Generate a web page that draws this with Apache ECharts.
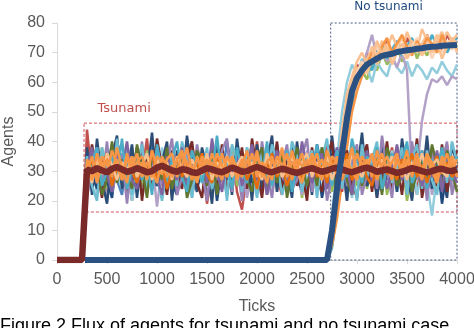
<!DOCTYPE html>
<html>
<head>
<meta charset="utf-8">
<title>Flux of agents</title>
<script src="https://cdn.jsdelivr.net/npm/echarts@6/dist/echarts.min.js"></script>
<style>
  html, body { margin: 0; padding: 0; background: #fff; }
  #chart { width: 474px; height: 328px; }
</style>
</head>
<body>
<div id="chart"></div>
<script>
// x positions (ticks) shared by the tsunami runs and the red mean
var ticks = [0,50,100,150,200,250,300,350,400,450,500,550,600,650,700,750,800,850,900,950,
  1000,1050,1100,1150,1200,1250,1300,1350,1400,1450,1500,1550,1600,1650,1700,1750,1800,1850,1900,1950,
  2000,2050,2100,2150,2200,2250,2300,2350,2400,2450,2500,2550,2600,2650,2700,2750,2800,2850,2900,2950,
  3000,3050,3100,3150,3200,3250,3300,3350,3400,3450,3500,3550,3600,3650,3700,3750,3800,3850,3900,3950,4000];

// x positions for the no-tsunami runs (all zero before 2700)
var lateTicks = [2700,2750,2800,2850,2900,2950,3000,3050,3100,3150,3200,3250,3300,3350,3400,
  3450,3500,3550,3600,3650,3700,3750,3800,3850,3900,3950,4000];

// no-tsunami mean: flat at 0 from ~280, then rising
var blueTicks = [280,2700,2750,2800,2850,2900,2950,3000,3050,3100,3150,3200,3250,3300,3350,3400,
  3450,3500,3550,3600,3650,3700,3750,3800,3850,3900,3950,4000];
var noTsunamiMean = [0,0,10,24,36,48,57,61.5,64,66,67,68,68.9,69.3,69.6,70.2,
  70.5,70.8,71,71.3,71.5,71.8,72,72.1,72.3,72.4,72.5,72.6];

// tsunami mean
var tsunamiMean = [0,0,0,0,0,0,
  30.5,30.0,31.0,30.2,29.6,30.8,31.4,30.6,29.8,30.2,31.0,30.4,29.6,30.0,31.2,
  31.8,31.0,30.2,29.8,30.6,30.4,29.6,29.4,30.2,31.0,30.6,30.0,29.6,30.4,31.2,
  30.6,29.8,30.0,30.8,31.4,30.8,30.0,29.6,30.2,30.8,30.4,29.8,29.4,30.0,30.6,
  31.0,30.4,29.8,30.2,30.8,31.2,30.6,30.0,29.6,30.2,30.8,31.2,30.6,29.8,30.2,
  30.6,30.0,29.4,29.8,30.4,31.0,30.6,30.0,29.6,30.0,30.6,30.8,30.2,30.0,30.6];

// individual tsunami runs
var ts01 = [0,0,0,0,0,0,
  33,28,36,24,31,39,27,22,34,30,37,25,29,41,26,
  33,23,35,30,27,38,24,32,36,21,29,34,27,40,31,
  25,33,28,37,22,30,35,26,39,29,24,32,36,28,23,
  34,30,38,26,31,27,35,22,33,29,40,25,31,36,28,
  24,33,37,27,30,21,34,29,38,26,32,28,35,24,31];
var ts02 = [0,0,0,0,0,0,
  44,27,31,36,23,30,38,26,33,20,35,29,41,24,32,
  27,37,22,34,30,25,39,28,33,19,31,36,26,30,38,
  23,17,29,27,40,24,31,35,28,22,34,33,37,26,30,
  34,25,29,39,27,32,23,36,30,28,41,26,33,21,35,
  29,38,24,31,27,34,22,37,30,26,33,28,39,25,32];
var ts03 = [0,0,0,0,0,0,
  26,34,29,38,24,31,27,36,22,33,30,25,37,28,32,
  21,35,29,26,39,31,24,33,28,36,23,30,34,27,38,
  25,32,29,22,35,30,37,26,33,24,31,28,36,21,34,
  29,26,38,31,23,35,27,32,30,25,37,24,33,28,36,
  22,31,27,34,20,29,35,26,32,38,24,30,27,33,29];
var ts04 = [0,0,0,0,0,0,
  30,24,35,28,21,33,38,26,31,23,36,29,25,34,18,
  32,27,37,24,30,35,22,28,33,26,39,31,24,29,36,
  27,33,21,30,25,35,28,38,23,31,26,34,29,22,37,
  30,25,33,28,36,24,31,20,35,27,32,38,26,29,23,
  34,30,26,37,28,24,33,29,36,22,31,27,35,25,30];
var ts05 = [0,0,0,0,0,0,
  28,35,22,31,26,37,29,24,33,20,30,36,27,32,25,
  38,29,23,34,28,31,21,36,27,30,25,33,29,22,35,
  31,26,38,28,24,32,36,23,30,27,34,25,29,37,26,
  32,22,30,35,28,25,33,29,21,36,27,31,24,34,30,
  26,37,23,31,28,35,22,30,26,15,29,24,36,28,31];
var ts06 = [0,0,0,0,0,0,
  36,29,24,33,27,21,35,30,26,38,23,31,28,34,25,
  30,37,26,22,33,29,35,24,31,27,36,20,32,28,25,
  34,29,37,26,31,23,33,28,35,25,30,38,27,24,32,
  28,34,21,30,36,26,33,29,24,37,31,25,34,22,29,
  33,27,36,30,25,32,28,35,23,30,34,19,31,27,33];
var ts07 = [0,0,0,0,0,0,
  31,38,26,34,29,23,36,31,40,27,24,33,30,37,28,
  22,35,31,27,38,24,32,29,35,26,41,30,23,34,28,
  36,25,31,39,27,33,22,30,37,29,25,35,28,40,31,
  26,33,36,24,30,38,27,32,22,35,29,37,26,31,34,
  24,30,39,27,33,29,36,25,31,28,37,23,34,30,26];
var ts08 = [0,0,0,0,0,0,
  27,33,38,25,30,35,28,41,24,31,36,27,33,22,39,
  30,26,34,40,28,23,37,31,26,35,29,42,27,33,24,
  38,30,26,35,31,28,40,25,34,30,37,23,32,27,36,
  31,39,27,34,25,37,30,28,41,33,26,35,29,38,24,
  31,36,28,33,40,26,30,37,24,34,29,38,31,27,35];
var ts09 = [0,0,0,0,0,0,
  29,34,27,32,36,25,31,28,35,30,26,33,29,37,27,
  32,24,30,35,28,33,27,31,36,29,26,34,30,28,33,
  29,35,27,31,24,33,30,36,28,32,25,30,34,27,31,
  35,28,32,26,34,29,31,36,27,30,33,28,25,32,35,
  29,31,27,34,30,36,28,32,26,31,35,29,33,28,30];
var ts10 = [0,0,0,0,0,0,
  30,35,26,33,29,37,32,27,34,31,36,28,33,30,26,
  35,31,28,34,37,29,32,26,33,30,36,31,27,35,32,
  29,34,30,36,28,33,31,27,35,32,29,37,30,26,34,
  31,36,28,33,30,35,27,32,29,36,31,34,28,37,30,
  32,27,35,29,33,31,36,28,34,30,26,33,31,35,28];
var ts11 = [0,0,0,0,0,0,
  32,27,36,30,34,28,38,31,26,35,30,33,27,37,31,
  29,34,36,28,32,38,30,27,35,31,33,28,36,30,34,
  27,32,37,29,35,31,26,34,30,38,28,33,31,36,29,
  34,30,27,37,32,29,35,31,38,28,33,30,36,27,32,
  35,29,33,31,37,28,34,30,36,32,27,35,31,33,29];
var ts12 = [0,0,0,0,0,0,
  38,22,41,27,19,35,42,24,30,39,21,36,28,43,25,
  33,40,20,37,26,42,29,23,38,31,19,40,27,35,22,
  41,28,36,20,39,25,33,42,23,37,30,21,40,26,35,
  22,39,31,24,42,27,36,20,38,29,43,25,33,21,40,
  27,35,23,41,30,20,38,26,42,24,36,29,21,39,32];
var ts13 = [0,0,0,0,0,0,
  24,39,30,21,36,27,40,33,23,29,38,20,34,26,41,
  31,22,37,29,24,35,40,26,21,36,32,25,39,22,33,
  28,38,24,41,30,21,35,27,40,23,33,37,25,30,20,
  38,27,23,35,40,22,31,37,26,21,34,39,23,36,27,
  40,24,33,22,37,29,41,21,30,35,25,39,23,32,37];
var ts14 = [0,0,0,0,0,0,
  21,32,38,26,40,23,30,36,19,34,27,40,23,31,37,
  25,33,41,22,28,37,24,39,30,20,34,27,37,41,23,
  33,20,30,37,24,40,29,21,36,32,39,24,27,35,41,
  23,30,37,20,28,34,40,25,33,39,22,29,36,24,42,
  30,21,38,33,24,40,27,35,20,37,28,33,40,22,29];
var ts15 = [0,0,0,0,0,0,
  35,25,20,38,31,24,41,28,37,22,32,39,24,36,29,
  20,31,36,25,40,33,21,35,28,38,24,30,36,20,39,
  34,23,38,31,21,36,26,39,33,22,28,40,35,23,31,
  37,21,34,41,26,38,24,35,31,20,39,28,34,40,23,
  36,26,31,38,22,34,39,24,37,27,22,36,26,40,33];
var ts16 = [0,0,0,0,0,0,
  28,37,33,22,27,40,26,34,29,24,39,31,21,36,33,
  27,38,24,31,35,21,27,37,33,25,38,22,32,34,26,
  37,31,27,23,34,38,22,33,26,36,21,30,38,32,25,
  33,25,38,29,33,21,36,27,22,37,25,32,30,34,22,
  38,33,25,28,36,23,30,34,25,39,32,24,37,30,23];
var ts17 = [0,0,0,0,0,0,
  31,26,34,29,36,32,27,33,30,35,28,32,36,27,34,
  30,33,27,35,31,28,34,30,29,36,27,33,31,35,28,
  32,35,29,33,31,27,36,30,34,28,31,35,29,33,36,
  28,33,30,35,27,32,34,29,36,31,28,33,35,30,34,
  31,35,29,32,27,33,30,36,29,32,34,30,28,35,32];
var ts18 = [0,0,0,0,0,0,
  34,30,28,35,32,30,34,27,36,29,33,35,30,28,35,
  33,28,32,30,36,33,27,35,30,34,29,36,32,28,35,
  31,28,34,30,37,28,33,35,29,31,36,27,34,32,30,
  36,31,34,28,35,33,29,34,30,27,35,32,29,33,36,
  30,33,36,28,34,30,32,27,35,33,29,31,36,30,34];

// individual no-tsunami runs
var nt01 = [0,10,26,40,52,60,66,63,70,66,72,68,74,70,73,69,75,71,74,70,76,72,74,71,76,73,75];
var nt02 = [0,6,18,30,44,54,58,64,61,67,64,70,66,68,72,67,70,74,68,72,69,73,70,75,71,74,72];
var nt03 = [0,14,34,50,60,66,62,68,65,60,67,64,62,68,65,63,67,62,66,64,61,65,63,67,64,62,66];
var nt04 = [0,8,22,38,50,58,64,66,70,76,68,71,67,69,65,70,64,27,30,47,56,61,60,62,59,62,61];
var nt05 = [0,4,16,28,42,52,60,65,68,64,70,73,68,71,74,69,72,75,70,73,71,76,72,74,70,73,75];
var nt06 = [0,10,24,42,56,62,67,70,66,72,69,74,71,76,72,70,77,73,71,78,74,72,76,73,77,74,76];
var nt07 = [0,12,28,44,55,61,65,62,68,71,66,70,73,69,72,75,71,74,70,73,76,71,74,77,72,75,73];
var nt08 = [0,7,20,35,48,57,63,67,64,69,72,68,71,67,73,70,68,72,75,70,73,68,72,70,74,71,73];
var nt09 = [0,5,14,26,38,50,57,62,66,70,67,72,75,70,73,76,72,69,74,71,75,73,70,76,72,74,71];
var nt10 = [0,9,21,33,46,55,59,66,63,68,74,69,72,66,70,73,68,71,73,69,72,70,74,68,72,75,70];

var tsunamiRuns = [ts01, ts02, ts03, ts04, ts05, ts06, ts12, ts13, ts14, ts15, ts16,
  ts07, ts08, ts09, ts17, ts10, ts11, ts18];
var tsunamiColors = ['#4f81bd','#c0504d','#9bbb59','#b3a2c7','#93cddd','#1f497d',
  '#2c4d75','#772c2a','#9983b5','#6fbdd1','#5f7530',
  '#8064a2','#4bacc6','#e46c0a','#fac090','#f79646','#f79646','#f79646'];
var noTsunamiRuns = [nt01, nt02, nt03, nt04, nt05, nt06, nt07, nt08, nt09, nt10];
var noTsunamiColors = ['#c0504d','#9bbb59','#93cddd','#b3a2c7','#4bacc6',
  '#fac090','#fac090','#fbd5b5','#f79646','#fac090'];

// annotation boxes (data coordinates)
var tsunamiBox = [270, 46.2, 4000, 16.2];
var noTsunamiBox = [2737, 80, 4000, 0];

function zip(xs, ys) {
  return ys.map(function (y, i) { return [xs[i], y]; });
}

var series = [];
noTsunamiRuns.forEach(function (run, i) {
  series.push({
    type: 'line', data: zip(lateTicks, run), symbol: 'none', silent: true,
    lineStyle: { width: 2.5, color: noTsunamiColors[i] }
  });
});
tsunamiRuns.forEach(function (run, i) {
  series.push({
    type: 'line', data: zip(ticks, run), symbol: 'none', silent: true,
    lineStyle: { width: 2.5, color: tsunamiColors[i] }
  });
});
series.push({
  type: 'line', data: zip(ticks, tsunamiMean), symbol: 'none', silent: true,
  lineStyle: { width: 6.5, color: '#7a2a28' }
});
series.push({
  type: 'line', data: zip(blueTicks, noTsunamiMean), symbol: 'none', silent: true,
  lineStyle: { width: 6, color: '#2b5183' },
  markArea: {
    silent: true,
    data: [
      [{
        name: 'Tsunami', coord: [tsunamiBox[0], tsunamiBox[1]],
        itemStyle: { color: 'rgba(0,0,0,0)', borderColor: '#d0505a', borderWidth: 1, borderType: [3, 2] },
        label: { show: true, position: [14, -21], color: '#c0504d', fontSize: 13, fontFamily: '"DejaVu Sans", sans-serif' }
      }, { coord: [tsunamiBox[2], tsunamiBox[3]] }],
      [{
        name: 'No tsunami', coord: [noTsunamiBox[0], noTsunamiBox[1]],
        itemStyle: { color: 'rgba(0,0,0,0)', borderColor: '#4a5b80', borderWidth: 1, borderType: [2, 2] },
        label: { show: true, position: [24, -22], color: '#1f497d', fontSize: 12, fontFamily: '"DejaVu Sans", sans-serif' }
      }, { coord: [noTsunamiBox[2], noTsunamiBox[3]] }]
    ]
  }
});

var chart = echarts.init(document.getElementById('chart'));
chart.setOption({
  animation: false,
  textStyle: { fontFamily: 'Arial, "Liberation Sans", sans-serif' },
  title: {
    text: 'Figure 2 Flux of agents for tsunami and no tsunami case',
    left: 0, top: 317, padding: 0,
    textStyle: { fontSize: 18, fontWeight: 'normal', color: '#000' }
  },
  grid: { left: 57, right: 17, top: 23, bottom: 68, outerBoundsMode: 'none', containLabel: false },
  xAxis: {
    type: 'value', min: 0, max: 4000, interval: 500,
    name: 'Ticks', nameLocation: 'middle', nameGap: 39,
    nameTextStyle: { fontSize: 16, color: '#595959' },
    axisLine: { lineStyle: { color: '#d9d9d9' } },
    axisTick: { show: true, length: 4, lineStyle: { color: '#d9d9d9' } },
    axisLabel: { fontSize: 16, color: '#595959', margin: 12, formatter: function (v) { return String(v); } },
    splitLine: { show: false }
  },
  yAxis: {
    type: 'value', min: 0, max: 80, interval: 10,
    name: 'Agents', nameLocation: 'middle', nameGap: 36,
    nameTextStyle: { fontSize: 16, color: '#595959' },
    axisLine: { show: true, lineStyle: { color: '#d9d9d9' } },
    axisTick: { show: true, length: 5, lineStyle: { color: '#d9d9d9' } },
    axisLabel: { fontSize: 16, color: '#595959', margin: 12 },
    splitLine: { show: false }
  },
  series: series
});
</script>
</body>
</html>
